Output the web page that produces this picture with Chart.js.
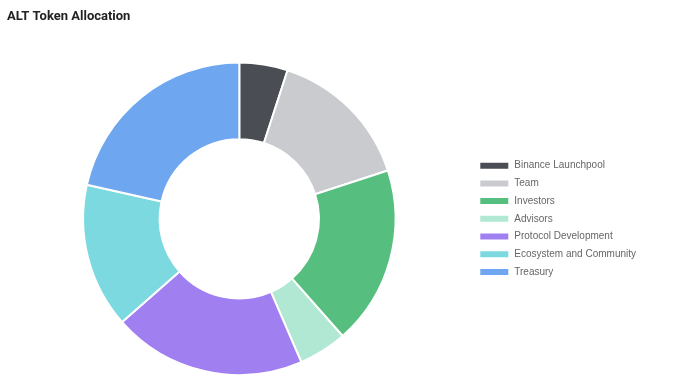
<!DOCTYPE html>
<html>
<head>
<meta charset="utf-8">
<script src="https://cdn.jsdelivr.net/npm/chart.js@4"></script>
<style>
    html, body { margin: 0; padding: 0; background: #ffffff; }
    .chart-card { position: relative; width: 680px; height: 385px; }
</style>
</head>
<body>
<div class="chart-card">
    <canvas id="allocationChart"></canvas>
</div>
<script>
    const categories = [
        'Binance Launchpool',
        'Team',
        'Investors',
        'Advisors',
        'Protocol Development',
        'Ecosystem and Community',
        'Treasury'
    ];
    const shares = [5, 15, 18.5, 5, 20, 15, 21.5];
    const sliceColors = ['#4a4d54', '#c9cbcf', '#56be7e', '#b0e8d3', '#a080f0', '#7dd9e0', '#6ea6ef'];

    new Chart(document.getElementById('allocationChart'), {
        type: 'doughnut',
        data: {
            labels: categories,
            datasets: [{
                data: shares,
                backgroundColor: sliceColors,
                borderColor: '#ffffff',
                borderWidth: 2
            }]
        },
        options: {
            responsive: true,
            maintainAspectRatio: false,
            animation: false,
            cutout: '51%',
            layout: { padding: { left: 7, right: 34, bottom: 9 } },
            plugins: {
                title: {
                    display: true,
                    text: 'ALT Token Allocation',
                    align: 'start',
                    color: '#222222',
                    font: { family: "Roboto, 'Noto Sans', sans-serif", size: 13, weight: 'bold' },
                    padding: { top: 9, bottom: 37 }
                },
                legend: {
                    position: 'right',
                    fullSize: false,
                    labels: {
                        boxWidth: 30,
                        boxHeight: 8,
                        padding: 7.7,
                        color: '#666666',
                        font: { family: "'Liberation Sans', Arial, sans-serif", size: 10 }
                    }
                },
                tooltip: { enabled: false }
            }
        }
    });
</script>
</body>
</html>
